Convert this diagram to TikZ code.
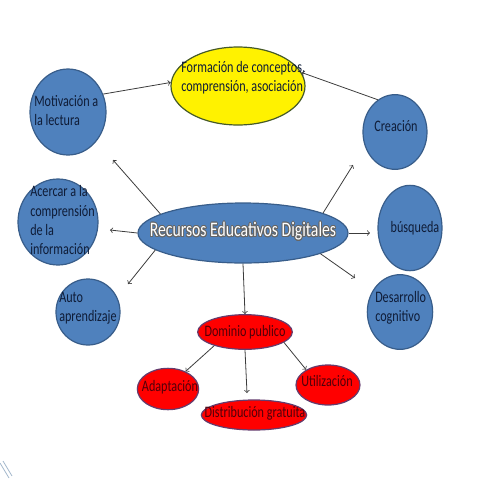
\documentclass[tikz,border=0pt]{standalone}
\usepackage{fontspec}
\setmainfont{Carlito}
\usepackage{contour}
\usetikzlibrary{shapes,arrows}

\definecolor{bluefill}{RGB}{79,129,189}
\definecolor{blueedge}{RGB}{56,93,138}
\definecolor{bluetext}{RGB}{15,28,55}
\definecolor{yellowedge}{RGB}{70,90,40}
\definecolor{rededge}{RGB}{100,60,110}
\definecolor{redtext}{RGB}{80,0,10}
\definecolor{linegray}{RGB}{60,60,60}
\definecolor{ghost}{RGB}{165,185,205}

\newcommand{\squeeze}[1]{\scalebox{.76}[1]{\begin{tabular}{@{}l@{}}#1\end{tabular}}}
\contourlength{0.8pt}

\begin{document}
\begin{tikzpicture}[x=0.75pt,y=-0.75pt,
	blob/.style={ellipse,draw=blueedge,fill=bluefill,line width=0.9pt,inner sep=0pt},
	idea/.style={ellipse,draw=yellowedge,fill=yellow,line width=0.9pt,inner sep=0pt},
	leaf/.style={ellipse,draw=rededge,fill=red,line width=0.9pt,inner sep=0pt},
	txt/.style={inner sep=0pt,font=\fontsize{12}{14.5}\selectfont,text=bluetext},
	arr/.style={->,draw=linegray,line width=0.6pt}]
	\useasboundingbox (0,0) rectangle (480,480);
	
	% Centre
	\node[blob,minimum width=157.5pt,minimum height=45pt] (rec) at (243,233) {};
	\node[inner sep=0pt,text=white,font=\fontsize{15.5}{18}\selectfont] (recT) at (243,232)
		{\scalebox{.76}[1]{\contour{black!60}{Recursos Educativos Digitales}}};
	
	% Top
	\node[idea,minimum width=100.5pt,minimum height=58.5pt] (form) at (238,86) {};
	\node[txt,anchor=west] (formT) at (181,78) {\squeeze{Formación de conceptos,\\comprensión, asociación}};
	
	% Left bubbles
	\node[blob,minimum width=57pt,minimum height=64.5pt] (mot) at (68,112) {};
	\node[txt,anchor=west] (motT) at (34,112) {\squeeze{Motivación a\\la lectura}};
	
	\node[blob,minimum width=60pt,minimum height=64.5pt] (acer) at (58,222) {};
	\node[txt,anchor=west] (acerT) at (30,222) {\squeeze{Acercar a la\\comprensión\\de la\\información}};
	
	\node[blob,minimum width=48pt,minimum height=49.5pt] (auto) at (88,312) {};
	\node[txt,anchor=west] (autoT) at (59,308) {\squeeze{Auto\\aprendizaje}};
	
	% Right bubbles
	\node[blob,minimum width=48pt,minimum height=56pt] (crea) at (395,132) {};
	\node[txt] (creaT) at (396,128) {\squeeze{Creación}};
	
	\node[blob,minimum width=48pt,minimum height=64pt] (busq) at (410,228) {};
	\node[txt] (busqT) at (415,229) {\squeeze{búsqueda}};
	
	\node[blob,minimum width=49pt,minimum height=56pt] (desa) at (400,312) {};
	\node[txt,anchor=west] (desaT) at (375,308) {\squeeze{Desarrollo\\cognitivo}};
	
	% Dominio publico
	\node[leaf,minimum width=71pt,minimum height=26pt] (dom) at (245,332) {};
	\node[txt,text=redtext] (domT) at (245,333) {\squeeze{Dominio publico}};
	
	\node[leaf,minimum width=46pt,minimum height=31pt] (adap) at (168,389) {};
	\node[txt,text=redtext] (adapT) at (170,388) {\squeeze{Adaptación}};
	
	\node[leaf,minimum width=79pt,minimum height=22.5pt] (dist) at (254,415) {};
	\node[txt,text=redtext] (distT) at (255,414) {\squeeze{Distribución gratuita}};
	
	\node[leaf,minimum width=48pt,minimum height=30pt] (util) at (328,385) {};
	\node[txt,text=redtext] (utilT) at (327,383) {\squeeze{Utilización}};
	
	% Arrows
	\coordinate (ul) at (113,160);
	\coordinate (ll) at (110,230);
	\coordinate (dl) at (128,284);
	\coordinate (ur) at (353,165);
	\coordinate (rr) at (370,233);
	\coordinate (dr) at (355,278);
	\coordinate (dd) at (247,393);
	
	\draw[arr] (mot.27) -- (form.177);
	\draw[arr] (crea.118) -- (form.12);
	\draw[arr] (rec.167) -- (ul);
	\draw[arr] (rec.west) -- (ll);
	\draw[arr] (rec.191) -- (dl);
	\draw[arr] (rec.14) -- (ur);
	\draw[arr] (rec.east) -- (rr);
	\draw[arr] (rec.-15) -- (dr);
	\draw[arr] (rec.south) -- (dom.north);
	\draw[arr] (dom.204) -- (adap.45);
	\draw[arr] (dom.south) -- (dd);
	\draw[arr] (dom.-15) -- (util.145);
	
	% Corner marks
	\draw[ghost,line width=0.6pt] (0,463) -- (9,478);
	\draw[ghost,line width=0.6pt] (3,461) -- (12,476);
\end{tikzpicture}
\end{document}
